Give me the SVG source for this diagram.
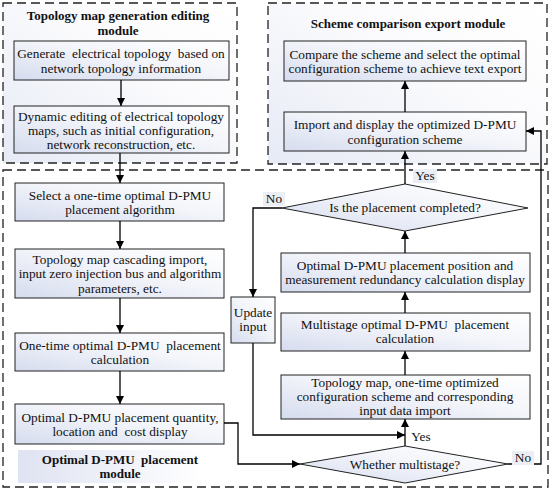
<svg xmlns="http://www.w3.org/2000/svg" width="550" height="492" viewBox="0 0 550 492">
<defs>
<linearGradient id="gb" x1="0" y1="1" x2="1" y2="0">
<stop offset="0" stop-color="#d6dcef"/>
<stop offset="0.55" stop-color="#f3f5fa"/>
<stop offset="1" stop-color="#ffffff"/>
</linearGradient>
<linearGradient id="gm" x1="0" y1="1" x2="1" y2="0">
<stop offset="0" stop-color="#e6eaf5"/>
<stop offset="0.6" stop-color="#fbfbfd"/>
<stop offset="1" stop-color="#ffffff"/>
</linearGradient>
<linearGradient id="gt" x1="0" y1="0" x2="1" y2="0">
<stop offset="0" stop-color="#dfe3f2"/>
<stop offset="1" stop-color="#ffffff"/>
</linearGradient>
<marker id="ah" viewBox="0 0 10 10" refX="10" refY="5" markerWidth="8" markerHeight="8" markerUnits="userSpaceOnUse" orient="auto">
<path d="M0,0 L10,5 L0,10 z" fill="#000"/>
</marker>
</defs>
<style>
.mod{fill:url(#gm);stroke:#222;stroke-width:1.3;stroke-dasharray:9 5}
.mod3{fill:none;stroke:#222;stroke-width:1.3;stroke-dasharray:9 5}
.box{fill:url(#gb);stroke:#222;stroke-width:1}
.t{font-family:"Liberation Serif",serif;font-size:13.3px;fill:#111;text-anchor:middle;white-space:pre}
.b{font-family:"Liberation Serif",serif;font-size:13px;font-weight:bold;fill:#111;text-anchor:middle;white-space:pre}
.c{fill:none;stroke:#000;stroke-width:1.3}
.a{marker-end:url(#ah)}
.lb{fill:#eceef5}
</style>
<rect width="550" height="492" fill="#fff"/>
<g id="module-topology">
<rect class="mod" x="3" y="3" width="234" height="160"/>
<text class="b" x="118" y="20">Topology map generation editing</text>
<text class="b" x="118" y="35">module</text>
</g>
<g id="module-scheme">
<rect class="mod" x="268" y="3" width="279" height="161"/>
<text class="b" x="408" y="28">Scheme comparison export module</text>
</g>
<g id="module-placement">
<rect class="mod3" x="3" y="170" width="545" height="317"/>
<rect x="18" y="450" width="188" height="33" fill="url(#gt)"/>
<text class="b" x="120" y="464">Optimal D-PMU  placement</text>
<text class="b" x="120" y="478">module</text>
</g>
<g id="n1"><rect class="box" x="14" y="41" width="215" height="39"/>
<text class="t" x="121" y="58">Generate  electrical topology  based on</text>
<text class="t" x="121" y="73">network topology information</text></g>
<g id="n2"><rect class="box" x="14" y="106" width="215" height="47"/>
<text class="t" x="121" y="121">Dynamic editing of electrical topology</text>
<text class="t" x="121" y="135">maps, such as initial configuration,</text>
<text class="t" x="121" y="149">network reconstruction, etc.</text></g>
<g id="n3"><rect class="box" x="284" y="41" width="242" height="40"/>
<text class="t" x="405" y="59">Compare the scheme and select the optimal</text>
<text class="t" x="405" y="73">configuration scheme to achieve text export</text></g>
<g id="n4"><rect class="box" x="284" y="112" width="242" height="39"/>
<text class="t" x="405" y="129">Import and display the optimized D-PMU</text>
<text class="t" x="405" y="144">configuration scheme</text></g>
<g id="n5"><rect class="box" x="15" y="183" width="209" height="38"/>
<text class="t" x="120" y="200">Select a one-time optimal D-PMU</text>
<text class="t" x="120" y="214">placement algorithm</text></g>
<g id="n6"><rect class="box" x="15" y="249" width="209" height="49"/>
<text class="t" x="120" y="264">Topology map cascading import,</text>
<text class="t" x="120" y="278">input zero injection bus and algorithm</text>
<text class="t" x="120" y="293">parameters, etc.</text></g>
<g id="n7"><rect class="box" x="15" y="333" width="209" height="38"/>
<text class="t" x="120" y="350">One-time optimal D-PMU  placement</text>
<text class="t" x="120" y="364">calculation</text></g>
<g id="n8"><rect class="box" x="15" y="404" width="209" height="40"/>
<text class="t" x="120" y="422">Optimal D-PMU placement quantity,</text>
<text class="t" x="120" y="436">location and  cost display</text></g>
<g id="n9"><rect class="box" x="231" y="297" width="44" height="46"/>
<text class="t" x="253" y="317">Update</text>
<text class="t" x="253" y="331">input</text></g>
<g id="n10"><polygon class="box" points="282,208 405,184 528,208 405,231"/>
<text class="t" x="405" y="212">Is the placement completed?</text></g>
<g id="n11"><rect class="box" x="281" y="253" width="249" height="39"/>
<text class="t" x="405" y="270">Optimal D-PMU placement position and</text>
<text class="t" x="405" y="284">measurement redundancy calculation display</text></g>
<g id="n12"><rect class="box" x="281" y="313" width="249" height="38"/>
<text class="t" x="405" y="329">Multistage optimal D-PMU  placement</text>
<text class="t" x="405" y="343">calculation</text></g>
<g id="n13"><rect class="box" x="281" y="375" width="249" height="44"/>
<text class="t" x="405" y="387">Topology map, one-time optimized</text>
<text class="t" x="405" y="401">configuration scheme and corresponding</text>
<text class="t" x="405" y="415">input data import</text></g>
<g id="n14"><polygon class="box" points="300,464 405,446 508,464 405,483"/>
<text class="t" x="405" y="469">Whether multistage?</text></g>
<g id="connectors">
<line class="c a" x1="121" y1="80" x2="121" y2="106"/>
<line class="c a" x1="120" y1="153" x2="120" y2="183"/>
<line class="c a" x1="120" y1="221" x2="120" y2="249"/>
<line class="c a" x1="120" y1="298" x2="120" y2="333"/>
<line class="c a" x1="120" y1="371" x2="120" y2="404"/>
<polyline class="c a" points="224,423 238,423 238,464 300,464"/>
<polyline class="c a" points="282,208 253,208 253,297"/>
<polyline class="c a" points="253,343 253,435 405,435"/>
<line class="c a" x1="405" y1="446" x2="405" y2="419"/>
<line class="c a" x1="405" y1="375" x2="405" y2="351"/>
<line class="c a" x1="405" y1="313" x2="405" y2="292"/>
<line class="c a" x1="405" y1="253" x2="405" y2="231"/>
<line class="c a" x1="405" y1="184" x2="405" y2="151"/>
<line class="c a" x1="405" y1="112" x2="405" y2="81"/>
<polyline class="c a" points="508,464 541,464 541,131 526,131"/>
<rect class="lb" x="263" y="192" width="22" height="14"/>
<text class="t" x="274" y="203">No</text>
<rect class="lb" x="413" y="169" width="24" height="14"/>
<text class="t" x="425" y="180">Yes</text>
<text class="t" x="421" y="441">Yes</text>
<rect class="lb" x="512" y="451" width="22" height="14"/>
<text class="t" x="523" y="462">No</text>
</g>
</svg>
